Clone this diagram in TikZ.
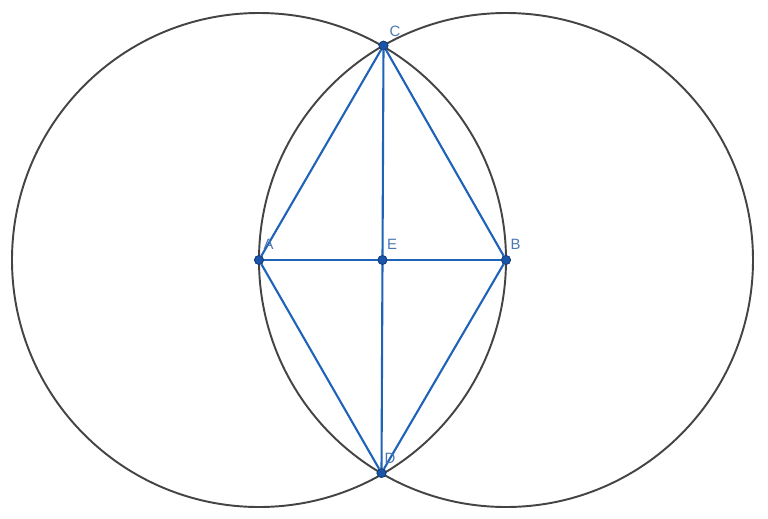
\documentclass[tikz,border=0pt]{standalone}
\usepackage{fontspec}
\setmainfont{Liberation Sans}
\usetikzlibrary{positioning}
\definecolor{ggline}{HTML}{1F63B8}
\definecolor{ggpoint}{HTML}{1A55A8}
\definecolor{gglabel}{HTML}{4A78B5}
\definecolor{ggcircle}{HTML}{444444}
\tikzstyle{point} = [circle, fill=ggpoint, draw=ggpoint!70!black, inner sep=0pt, minimum size=0.18cm]
\tikzstyle{lbl} = [text=gglabel, font=\fontsize{8.5}{9}\selectfont, inner sep=0pt]
\tikzstyle{seg} = [draw=ggline, line width=1.2pt]
\tikzstyle{ring} = [draw=ggcircle, line width=1.1pt]

\begin{document}
\begin{tikzpicture}[x=0.02cm, y=-0.02cm]
	\useasboundingbox (0,0) rectangle (768,518);

		% the two circles through each other's centre
		\draw [ring] (259,260) circle (247);
		\draw [ring] (506,260) circle (247);

		\node [point] (A) at (259,260) {};
		\node [point] (B) at (506,260) {};
		\node [point] (E) at (382.5,260) {};
		\node [point] (C) at (383.5,45.6) {};
		\node [point] (D) at (381.5,473) {};

		\path [seg] (A) -- (E);
		\path [seg] (E) -- (B);
		\path [seg] (C) -- (E);
		\path [seg] (E) -- (D);
		\path [seg] (A) -- (C);
		\path [seg] (C) -- (B);
		\path [seg] (A) -- (D);
		\path [seg] (D) -- (B);

		\node [point] at (A) {};
		\node [point] at (B) {};
		\node [point] at (E) {};
		\node [point] at (C) {};
		\node [point] at (D) {};

		\node [lbl] (lA) at (268.5,244) {A};
		\node [lbl] (lB) at (515.5,244) {B};
		\node [lbl] (lE) at (392,244) {E};
		\node [lbl] (lC) at (395,31) {C};
		\node [lbl] (lD) at (390,458) {D};
	\end{tikzpicture}
\end{document}
